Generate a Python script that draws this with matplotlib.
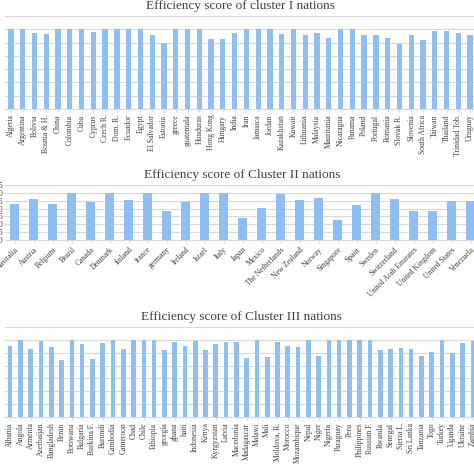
import matplotlib
matplotlib.use("Agg")
import matplotlib.pyplot as plt
import numpy as np

c1 = ["Algeria","Argentina","Bolivia","Bosnia & H.","China","Colombia","Cuba","Cyprus","Czech R.","Dom. R.","Ecuador","Egypt","El Salvador","Estonia","greece","guatemala","Honduras","Hong Kong","Hungary","India","Iran","Jamaica","Jordan","Kazakhstan","Kuwait","Lithuania","Malaysia","Mauritania","Nicaragua","Panama","Poland","Portugal","Romania","Slovak R.","Slovenia","South Africa","Taiwan","Thailand","Trinidad Tob.","Uruguay"]
v1 = [1,1,0.987,0.983,1,1,1,0.99,1,1,1,1,0.978,0.95,1,1,1,0.965,0.965,0.987,1,1,1,0.984,1,0.979,0.987,0.969,1,1,0.978,0.978,0.968,0.946,0.977,0.96,0.995,0.992,0.987,0.977]

c2 = ["Australia","Austria","Belgium","Brazil","Canada","Denmark","finland","france","germany","Ireland","Israel","Italy","Japan","Mexico","The Netherlands","New Zealand","Norway","Singapore","Spain","Sweden","Switzerland","United Arab Emirates","United Kingdom","United States","Venezuela"]
v2 = [0.932,0.958,0.932,1,0.941,1,0.954,1,0.882,0.941,1,1,0.838,0.906,0.993,0.954,0.967,0.825,0.921,1,0.958,0.882,0.886,0.95,0.95]
t2 = [0.7,0.75,0.8,0.85,0.9,0.95,1,1.05]

c3 = ["Albania","Angola","Armenia","Azerbaijan","Bangladesh","Benin","Botswana","Bulgaria","Burkina F.","Burundi","Cambodia","Cameroon","Chad","Chile","Ethiopia","georgia","ghana","haiti","Indonesia","Kenya","Kyrgyzstan","Latvia","Macedonia","Madagascar","Malawi","Mali","Moldova, R.","Morocco","Mozambique","Nepal","Niger","Nigeria","Paraguay","Peru","Philippines","Russian F.","Rwanda","Senegal","Sierra L.","Sri Lanka","Tanzania","Togo","Turkey","Uganda","Ukraine","Zambia"]
v3 = [0.977,1,0.964,0.996,0.971,0.923,1,0.983,0.927,0.988,1,0.965,1,1,1,0.959,0.991,0.976,0.995,0.961,0.985,0.992,0.993,0.929,1,0.933,0.992,0.977,0.971,1,0.939,1,1,1,1,1,0.959,0.963,0.968,0.964,0.939,0.951,1,0.949,0.989,0.995]

plt.rcParams['font.family'] = ['Liberation Serif', 'DejaVu Serif']
W = H = 474
fig = plt.figure(figsize=(4.74, 4.74), dpi=100)
col = '#8FBEF2'

def panel(top, bottom, left, right, cats, vals, title, rot, ha, showy):
    ax = fig.add_axes([left/W, 1-bottom/H, (right-left)/W, (bottom-top)/H])
    x = np.arange(len(cats))
    ax.bar(x, np.array(vals)-0.7, bottom=0.7, width=0.45, color=col, zorder=3)
    ax.set_ylim(0.7, 1.05)
    ax.set_yticks(t2)
    ax.yaxis.grid(True, color='#d9d9d9', lw=0.8, zorder=0)
    ax.set_xlim(-0.5, len(cats)-0.5)
    ax.set_xticks(x)
    ax.set_xticklabels(cats, rotation=rot, ha=ha, rotation_mode='anchor' if rot != 90 else 'default', fontsize=5.5, color='#404040')
    for s in ['top','right','left']:
        ax.spines[s].set_visible(False)
    ax.spines['bottom'].set_color('#d9d9d9')
    ax.tick_params(axis='y', length=0, labelsize=6, colors='#404040', labelleft=showy, pad=1)
    ax.tick_params(axis='x', length=2, color='#d9d9d9', pad=2)
    ax.set_title(title, fontsize=9.5, color='#404040', pad=5)
    return ax

panel(16, 109, 5, 476, c1, v1, "Efficiency score of cluster I nations", 90, 'center', False)
panel(185, 240, 5, 480, c2, v2, "Efficiency score of Cluster II nations", 45, 'right', True)
panel(327, 417, 5, 478, c3, v3, "Efficiency score of Cluster III nations", 90, 'center', False)

fig.savefig("out.png", dpi=100, facecolor='white')
